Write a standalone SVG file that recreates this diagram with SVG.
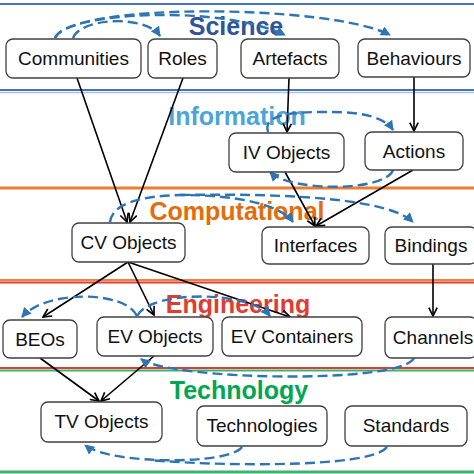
<svg xmlns="http://www.w3.org/2000/svg" width="474" height="474" viewBox="0 0 474 474">
<defs>
<marker id="ak" viewBox="0 0 12 12" refX="11" refY="6" markerWidth="10" markerHeight="10" orient="auto" markerUnits="userSpaceOnUse">
<path d="M1,1 L11,6 L1,11" fill="none" stroke="#000" stroke-width="2"/>
</marker>
<marker id="ab2" viewBox="0 0 10 10" refX="9" refY="5" markerWidth="10" markerHeight="10" orient="auto" markerUnits="userSpaceOnUse">
<path d="M0,0 L10,5 L0,10 z" fill="#2E75B6"/>
</marker>
</defs>
<style>
.box{fill:#fff;stroke:#404040;stroke-width:1.3}
.t{font-family:"Liberation Sans",Arial,sans-serif;font-size:19px;fill:#111;text-anchor:middle}
.lab{font-family:"Liberation Sans",Arial,sans-serif;font-size:25px;font-weight:bold;text-anchor:middle}
.blk{fill:none;stroke:#000;stroke-width:1.6;marker-end:url(#ak)}
.dash{fill:none;stroke:#2E75B6;stroke-width:2.4;stroke-dasharray:10,5;marker-end:url(#ab2)}
.dashn{fill:none;stroke:#2E75B6;stroke-width:2.4;stroke-dasharray:10,5}
</style>
<rect width="474" height="474" fill="#fff"/>
<g id="bands">
<line x1="0" y1="4" x2="474" y2="4" stroke="#4472C4" stroke-width="2"/>
<line x1="0" y1="90" x2="474" y2="90" stroke="#4472C4" stroke-width="2"/>
<line x1="0" y1="92.5" x2="474" y2="92.5" stroke="#A9C4E8" stroke-width="1.5"/>
<line x1="0" y1="188" x2="474" y2="188" stroke="#ED7D31" stroke-width="3"/>
<line x1="0" y1="280" x2="474" y2="280" stroke="#F08040" stroke-width="2"/>
<line x1="0" y1="282.5" x2="474" y2="282.5" stroke="#E03C31" stroke-width="2"/>
<line x1="0" y1="368" x2="474" y2="368" stroke="#E03C31" stroke-width="2"/>
<line x1="0" y1="370.5" x2="474" y2="370.5" stroke="#3CB371" stroke-width="2.2"/>
<line x1="0" y1="472" x2="474" y2="472" stroke="#3CB371" stroke-width="3"/>
</g>
<g id="labels">
<text class="lab" x="236" y="35" fill="#2F5597">Science</text>
<text class="lab" x="237" y="125" fill="#4BA6D6">Information</text>
<text class="lab" x="237" y="220" fill="#E46C0A">Computational</text>
<text class="lab" x="238" y="313" fill="#E03C31">Engineering</text>
<text class="lab" x="239" y="399" fill="#00A651">Technology</text>
</g>
<g id="connectors">
<path class="blk" d="M77,78 L127,222"/>
<path class="blk" d="M183,78 L130,222"/>
<path class="blk" d="M289,78 L287,132"/>
<path class="blk" d="M414,77 L414,131"/>
<path class="blk" d="M285,172 L315,226"/>
<path class="blk" d="M413,170 L316,226"/>
<path class="blk" d="M128,262 L43,317"/>
<path class="blk" d="M128,262 L154,315"/>
<path class="blk" d="M128,262 L290,317"/>
<path class="blk" d="M433,264 L433,316"/>
<path class="blk" d="M40,358 L99,401"/>
<path class="blk" d="M154,356 L101,401"/>
<path class="dash" d="M73,38 C80,18 145,14 160,36"/>
<path class="dash" d="M55,38 C65,12 220,4 285,35"/>
<path class="dash" d="M55,38 C70,2 330,4 390,35"/>
<path class="dash" d="M268,132 C262,112 300,112 330,112 C365,112 385,118 393,130"/>
<path class="dash" d="M393,170 C385,192 290,192 270,172"/>
<path class="dash" d="M110,222 C112,204 140,196 180,195 C240,195 280,205 293,222"/>
<path class="dash" d="M180,195 C300,193 390,200 413,222"/>
<path class="dash" d="M137,316 C125,290 45,290 22,317"/>
<path class="dash" d="M137,316 C150,290 250,290 270,316"/>
<path class="dash" d="M414,358 C400,385 170,380 141,359"/>
<path class="dash" d="M242,447 C230,465 110,465 85,445"/>
<path class="dashn" d="M387,447 C370,470 200,465 150,460"/>
</g>
<g id="n-communities"><rect class="box" x="6" y="39" width="135" height="39" rx="7"/><text class="t" x="73.5" y="65">Communities</text></g>
<g id="n-roles"><rect class="box" x="148" y="39" width="69" height="39" rx="7"/><text class="t" x="182.5" y="65">Roles</text></g>
<g id="n-artefacts"><rect class="box" x="241" y="39" width="98" height="39" rx="7"/><text class="t" x="290" y="65">Artefacts</text></g>
<g id="n-behaviours"><rect class="box" x="358" y="39" width="112" height="38" rx="7"/><text class="t" x="414" y="65">Behaviours</text></g>
<g id="n-ivobjects"><rect class="box" x="229" y="133" width="115" height="39" rx="7"/><text class="t" x="286.5" y="159">IV Objects</text></g>
<g id="n-actions"><rect class="box" x="365" y="132" width="98" height="38" rx="7"/><text class="t" x="414" y="158">Actions</text></g>
<g id="n-cvobjects"><rect class="box" x="72" y="223" width="113" height="39" rx="7"/><text class="t" x="128.5" y="249">CV Objects</text></g>
<g id="n-interfaces"><rect class="box" x="262" y="227" width="107" height="37" rx="7"/><text class="t" x="315.5" y="252">Interfaces</text></g>
<g id="n-bindings"><rect class="box" x="385" y="227" width="92" height="37" rx="7"/><text class="t" x="431" y="252">Bindings</text></g>
<g id="n-beos"><rect class="box" x="3" y="320" width="74" height="38" rx="7"/><text class="t" x="40" y="346">BEOs</text></g>
<g id="n-evobjects"><rect class="box" x="97" y="317" width="116" height="39" rx="7"/><text class="t" x="155" y="343">EV Objects</text></g>
<g id="n-evcontainers"><rect class="box" x="222" y="317" width="140" height="39" rx="7"/><text class="t" x="292" y="343">EV Containers</text></g>
<g id="n-channels"><rect class="box" x="385" y="317" width="92" height="41" rx="7"/><text class="t" x="433" y="344">Channels</text></g>
<g id="n-tvobjects"><rect class="box" x="41" y="402" width="121" height="40" rx="7"/><text class="t" x="101.5" y="428">TV Objects</text></g>
<g id="n-technologies"><rect class="box" x="197" y="406" width="130" height="40" rx="7"/><text class="t" x="262" y="432">Technologies</text></g>
<g id="n-standards"><rect class="box" x="345" y="406" width="122" height="40" rx="7"/><text class="t" x="406" y="432">Standards</text></g>
</svg>
